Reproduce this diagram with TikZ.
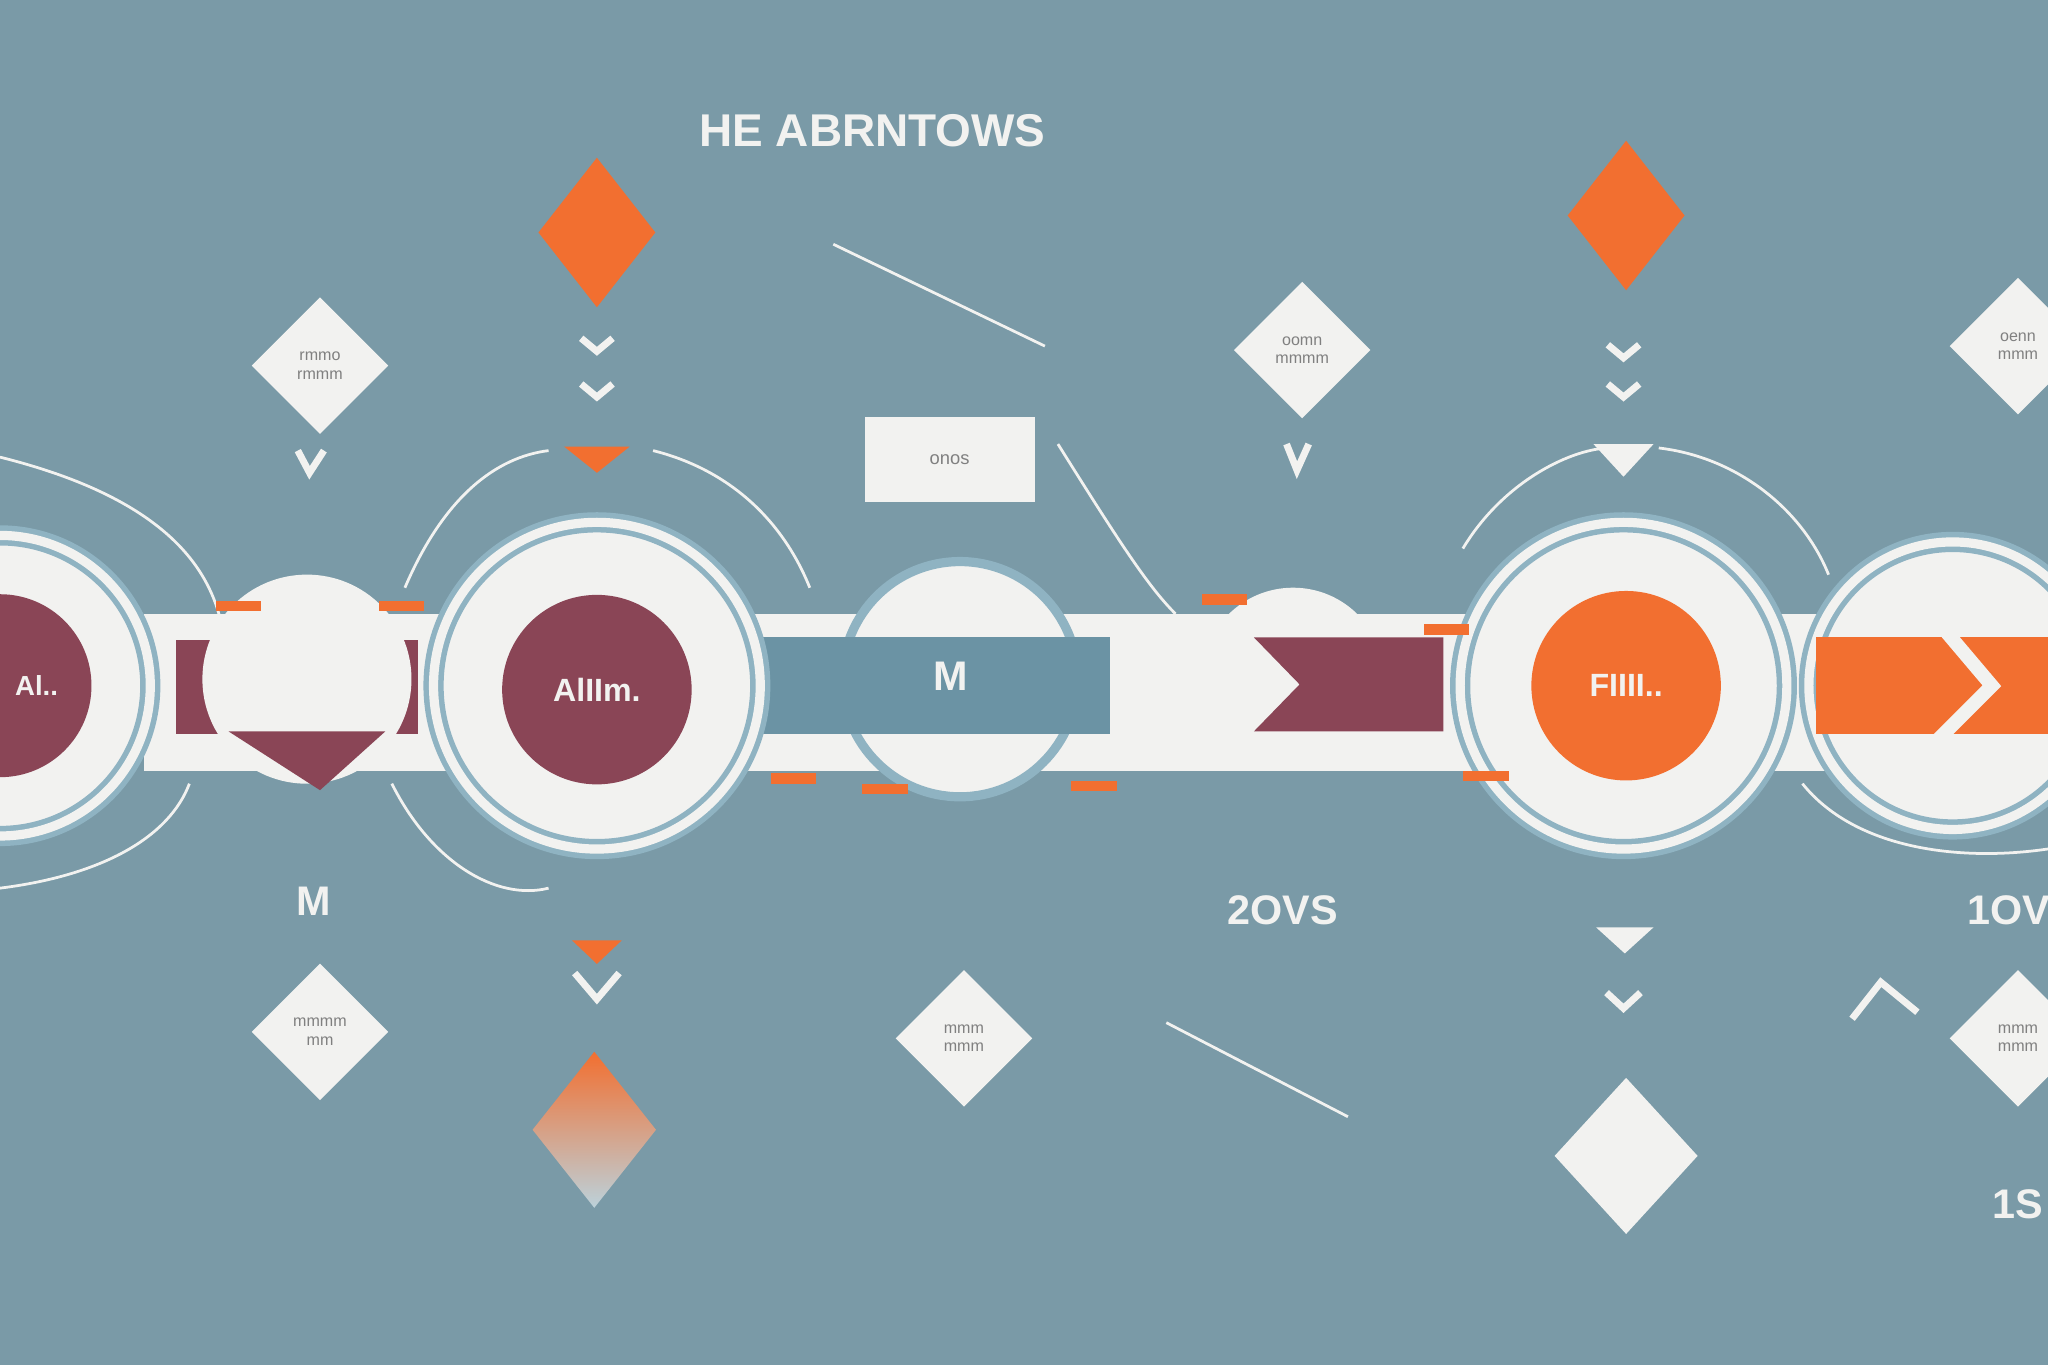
\documentclass[tikz,border=0pt]{standalone}
\usepackage{fontspec}
\setmainfont{Liberation Sans}
\usetikzlibrary{shapes.geometric}
\definecolor{bg}{HTML}{7A9AA7}
\definecolor{maroon}{HTML}{8A4556}
\definecolor{org}{HTML}{F26F30}
\definecolor{teal}{HTML}{6B93A4}
\definecolor{wh}{HTML}{F2F2F0}
\definecolor{ring}{HTML}{8FB3C2}
\tikzset{
 P/.style={shift={(0,10.45)},x=0.01cm,y=-0.01cm},
 wd/.style={diamond,fill=wh,minimum width=1.05cm,minimum height=1.05cm,inner sep=0pt,font=\fontsize{3.5}{4}\selectfont,text=gray,align=center},
 od/.style={diamond,fill=org,minimum width=0.9cm,minimum height=1.15cm,inner sep=0pt},
 bigc/.style={circle,fill=wh,draw=ring,line width=1.2pt,double=wh,double distance=2pt},
 inner/.style={circle,text=wh,font=\bfseries\fontsize{7}{8}\selectfont},
 lbl/.style={text=wh,font=\bfseries\fontsize{9}{10}\selectfont},
 thin/.style={draw=wh,line width=0.6pt},
 chev/.style={wh,line width=1.5pt}
}
\begin{document}
\begin{tikzpicture}[P]
\fill[bg] (0,0) rectangle (1568,1045);
\useasboundingbox (0,0) rectangle (1568,1045);
% thin arcs
\draw[thin] (0,350) .. controls (120,380) and (160,430) .. (170,480);
\draw[thin] (310,450) .. controls (340,380) and (380,350) .. (420,345);
\draw[thin] (500,345) .. controls (560,360) and (600,400) .. (620,450);
\draw[thin] (1120,420) .. controls (1150,370) and (1200,345) .. (1230,343);
\draw[thin] (1270,343) .. controls (1330,350) and (1380,390) .. (1400,440);
\draw[thin] (300,600) .. controls (330,660) and (380,690) .. (420,680);
\draw[thin] (0,680) .. controls (80,670) and (130,640) .. (145,600);
\draw[thin] (1380,600) .. controls (1420,650) and (1500,660) .. (1568,650);
\draw[thin] (810,340) .. controls (860,420) and (880,450) .. (900,470);
\coordinate (l1a) at (638,187); \coordinate (l1b) at (800,265);
\coordinate (l2a) at (893,783); \coordinate (l2b) at (1032,855);
\draw[thin] (l1a) -- (l1b); \draw[thin] (l2a) -- (l2b);
% band
\fill[wh] (110,470) rectangle (1568,590);
\fill[maroon] (135,490) rectangle (320,562);
\fill[teal] (570,488) rectangle (850,562);
\fill[org] (1420,450) .. controls (1470,420) and (1510,440) .. (1500,470) -- (1568,470) -- (1568,590) -- (1450,590) -- cycle;
% circles
\node[bigc,minimum size=2.3cm] (c0) at (0,525) {};
\node[inner,fill=maroon,minimum size=1.4cm] (i0) at (0,525) {};
\node[text=wh,font=\bfseries\fontsize{6}{7}\selectfont] (i0t) at (28,525) {Al..};
\node[circle,fill=wh,minimum size=1.6cm] (c1) at (235,520) {};
\fill[maroon] (175,560) -- (295,560) -- (245,605) -- cycle;
\node[lbl,font=\bfseries\fontsize{7}{8}\selectfont] (m1) at (238,522) {M};
\node[bigc,minimum size=2.5cm] (c2) at (457,525) {};
\node[inner,fill=maroon,minimum size=1.45cm] (i2) at (457,528) {AlIIm.};
\node[circle,fill=wh,draw=ring,line width=2pt,minimum size=1.8cm] (c3) at (735,520) {};
\fill[teal] (640,488) rectangle (850,562);
\node[lbl] (m2) at (728,518) {M};
\node[circle,fill=wh,minimum size=1.4cm] (c4) at (990,520) {};
\fill[maroon] (960,488) -- (1105,488) -- (1105,560) -- (960,560) -- (995,524) -- cycle;
\node[bigc,minimum size=2.5cm] (c5) at (1243,525) {};
\node[inner,fill=org,minimum size=1.45cm] (i5) at (1245,525) {FIIII..};
\node[bigc,minimum size=2.2cm] (c6) at (1495,525) {};
\fill[org] (1390,488) rectangle (1568,562);
\draw[wh,line width=3pt] (1470,460) -- (1525,525) -- (1480,570);
% accents
\foreach \x/\y in {165/460, 290/460, 920/455, 1090/478, 590/592, 660/600, 820/598, 1120/590}
 \fill[org] (\x,\y) rectangle +(35,8);
% diamonds
\node[od] (d1) at (457,178) {};
\node[od] (d2) at (1245,165) {};
\node[wd] (w1) at (245,280) {rmmo\\rmmm};
\node[wd] (w2) at (997,268) {oomn\\mmmm};
\node[wd] (w3) at (1545,265) {oenn\\mmm};
\node[wd] (w4) at (245,790) {mmmm\\mm};
\node[wd] (w5) at (738,795) {mmm\\mmm};
\node[wd] (w6) at (1545,795) {mmm\\mmm};
\node[wd,minimum width=1.1cm,minimum height=1.2cm] (w7) at (1245,885) {};
\node[diamond,top color=org,bottom color=ring!60!white,minimum width=0.95cm,minimum height=1.2cm,inner sep=0pt] (d3) at (455,865) {};
\node[fill=wh,minimum width=1.3cm,minimum height=0.65cm,font=\fontsize{4}{5}\selectfont,text=gray] (r) at (727,352) {onos};
% chevrons / arrows
\foreach \x/\y in {457/265, 457/300, 1243/270, 1243/300}
 \draw[chev] (\x-12,\y-6) -- (\x,\y+4) -- (\x+12,\y-6);
\fill[org] (432,342) -- (482,342) -- (457,362) -- cycle;
\fill[wh] (1220,340) -- (1266,340) -- (1243,365) -- cycle;
\fill[org] (438,720) -- (476,720) -- (457,738) -- cycle;
\draw[chev] (440,745) -- (457,765) -- (474,745);
\fill[wh] (1222,710) -- (1266,710) -- (1244,730) -- cycle;
\draw[chev] (1230,760) -- (1243,772) -- (1256,760);
\draw[chev] (1418,780) -- (1440,752) -- (1468,775);
\draw[chev] (228,345) -- (237,362) -- (248,345);
\draw[chev] (985,340) -- (993,360) -- (1002,340);
% text
\node[lbl,font=\bfseries\fontsize{10}{11}\selectfont] (t) at (668,100) {HE ABRNTOWS};
\node[lbl] (m3) at (240,690) {M};
\node[lbl] (z1) at (982,697) {2OVS};
\node[lbl] (z2) at (1538,697) {1OV};
\node[lbl] (z3) at (1545,922) {1S};
\end{tikzpicture}
\end{document}
